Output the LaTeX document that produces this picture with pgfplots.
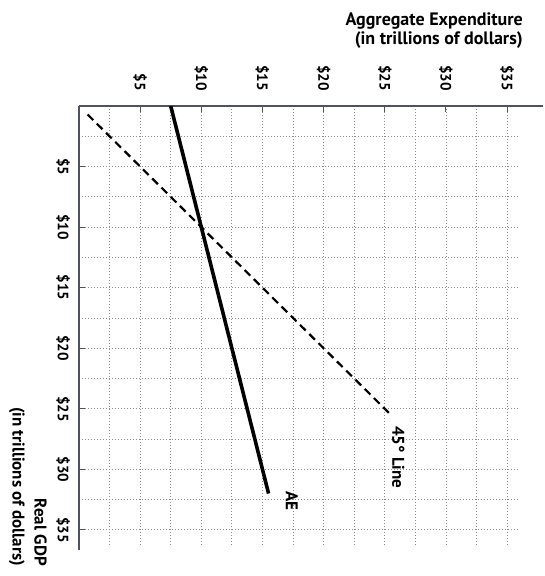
\documentclass[border=0pt]{standalone}
\usepackage{fontspec}
\setmainfont{PT Sans}
\usepackage{pgfplots}
\pgfplotsset{compat=1.18}
\definecolor{axiscol}{HTML}{4E5263}
\definecolor{gridcol}{HTML}{8C8C8C}
\begin{document}
\begin{tikzpicture}
\begin{axis}[
  at={(0,0)}, anchor=north west,
  x=12.23pt, y=12.11pt,
  xmin=0, xmax=36, ymin=0, ymax=36.2,
  y dir=reverse,
  axis x line*=top, axis y line*=left,
  axis line style={draw=axiscol, line width=1.6pt},
  x axis line style={shorten >=-24pt},
  y axis line style={shorten >=-6pt},
  xtick={5,10,...,35}, ytick={5,10,...,35},
  minor xtick={2.5,7.5,...,35}, minor ytick={2.5,7.5,...,35},
  xtick pos=right, ytick pos=left,
  xticklabel pos=right, yticklabel pos=left,
  xticklabels={\$5,\$10,\$15,\$20,\$25,\$30,\$35},
  yticklabels={\$5,\$10,\$15,\$20,\$25,\$30,\$35},
  /pgf/number format/assume math mode=true,
  tick label style={font=\fontsize{15}{17}\selectfont\bfseries},
  xticklabel style={rotate=-90, anchor=east, inner sep=0pt},
  yticklabel style={rotate=-90, anchor=north, inner sep=0pt},
  xticklabel shift=15pt, yticklabel shift=9pt,
  tick align=inside, major tick length=6pt, minor tick length=0pt,
  major tick style={draw=axiscol, line width=1pt},
  grid=both,
  grid style={draw=gridcol, line width=0.8pt, dash pattern=on 1pt off 2pt},
  major grid style={draw=gridcol, line width=0.8pt, dash pattern=on 1pt off 2pt},
]
\addplot[black, line width=3.6pt] coordinates {(7.5,0) (15.5,32)};
\addplot[black, line width=2.2pt, dash pattern=on 8pt off 5pt] coordinates {(0.7,0.7) (25.5,25.5)};
\node[rotate=-90, font=\fontsize{17}{19}\selectfont\bfseries] at (axis cs:17.4,32.6) {AE};
\node[rotate=-90, font=\fontsize{17}{19}\selectfont\bfseries] at (axis cs:26.1,29.0) {45° Line};
\end{axis}
\node[anchor=north east, align=right, inner sep=0pt,
  font=\fontsize{18}{19}\selectfont\bfseries] at (444pt,93pt)
  {Aggregate Expenditure\\(in trillions of dollars)};
\node[rotate=-90, anchor=north east, align=right, inner sep=0pt,
  font=\fontsize{17}{22}\selectfont\bfseries] at (-32pt,-460pt)
  {Real GDP\\(in trillions of dollars)};
\pgfresetboundingbox
\path[use as bounding box] (-79pt,106pt) rectangle (466pt,-470pt);
\end{tikzpicture}
\end{document}
